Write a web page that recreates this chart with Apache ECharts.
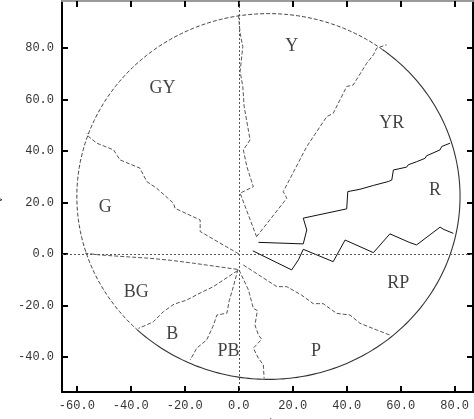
<!DOCTYPE html>
<html><head><meta charset="utf-8">
<script src="https://cdn.jsdelivr.net/npm/echarts@6/dist/echarts.min.js"></script>
<style>html,body{margin:0;padding:0;background:#fff}#c{width:474px;height:419px}</style>
</head><body><div id="c"></div>
<script>
// axis ticks
const xTicks = [-60, -40, -20, 0, 20, 40, 60, 80];
const yTicks = [-40, -20, 0, 20, 40, 60, 80];
const xRange = [-65.5, 86.8];
const yRange = [-53.6, 98.2];

// reference circle (center u*, v*, radius) and arc split angles (deg)
const circleCenter = [11, 22.3];
const circleRadius = 71;
const solidArc = [-133.3, 53.4];
const dashedArc = [53.4, 226.7];

// hue boundaries (u*, v*)
const bY_GY = [[-0.1,92.8],[0.5,85.7],[1.5,80.5],[0.5,70.8],[1.5,65],[2,57.2],[4.2,44.3],[1.7,40.4],[3,33.9],[5.4,26.1],[0.5,23.6],[6.6,6.7]];
const bY_YR = [[6.6,6.7],[17.8,21.6],[16.5,24.2],[25.2,41.7],[32.6,53.3],[35,54.6],[40,65],[42.4,65.6],[47.4,74],[49.9,77.3],[51.1,79.9],[54.8,81.2]];
const bYR_R = [[7.3,4.5],[23.9,3.9],[25.2,9.3],[23.9,13.9],[40,17.5],[40.4,24.2],[44.9,25.1],[45.2,25.6],[49.9,26.6],[50.1,27.1],[55.4,28.1],[56.7,28.7],[57.3,32.6],[62.2,33.7],[62.8,34.6],[65.9,35.8],[69,37.1],[69.6,38.1],[74.6,40.4],[75.2,41.7],[78.3,43]];
const bR_RP = [[5.2,1.2],[19.6,-6.2],[22.1,-2.3],[23.9,1.8],[35,-3],[39.4,5.4],[49.9,0.5],[56,7.8],[63.4,4.4],[65.9,3.5],[74.6,10.4],[76,9.5],[79.5,8]];
const bRP_P = [[1.7,-4.3],[14.1,-12.7],[17.8,-12.7],[23.3,-16],[27.6,-19.3],[31.3,-19.3],[36.3,-23.1],[41.2,-23.7],[44.9,-26.9],[51.1,-29.5],[56,-31.5]];
const bP_PB = [[0.1,-6.2],[3.6,-14],[5.4,-21.1],[6.9,-22],[6,-27.6],[7.3,-31.5],[8.5,-33.1],[5.4,-36.6],[7.3,-40.5],[9.1,-43.1],[9.4,-48.3]];
const bPB_B = [[-0.3,-6],[-2,-12.7],[-3.5,-18],[-4.4,-23],[-8.1,-23.7],[-9.5,-28],[-11.9,-33.4],[-15.6,-36.6],[-18,-41.2]];
const bB_BG = [[-0.5,-6.5],[-9.4,-12.7],[-14,-15],[-19.3,-17.9],[-24,-19.5],[-27.9,-22.4],[-31.6,-26.3],[-34,-27.5],[-37.2,-28.9]];
const bBG_G = [[-0.5,-6],[-16.8,-3.6],[-25,-2.5],[-32.8,-1.7],[-41.5,-1.1],[-51.4,-0.4],[-56.9,0.3]];
const bG_GY = [[0,0],[-14.3,8.7],[-14.3,13.2],[-23.6,17.7],[-24.2,19.7],[-30.4,25.5],[-34.1,28.1],[-36.6,33.3],[-44,36.5],[-46.4,40.4],[-52.6,43],[-55.7,45.6],[-56.3,46.9]];

// region labels
const hueNames = ['Y','GY','YR','R','G','BG','RP','B','PB','P'];
const hueU = [19.6,-28.3,56.7,72.7,-49.5,-38,59.1,-24.6,-3.8,28.6];
const hueV = [80.5,64.3,50.8,24.6,18.1,-15,-11.4,-31.2,-37.9,-37.9];

const dashedStyle = {color:'#555', width:1, type:[4,2]};
const solidStyle = {color:'#111', width:1, type:'solid'};

function lineSeries(data, style){
  return {type:'line', data:data, symbol:'none', lineStyle:style, silent:true, animation:false, z:3};
}

const mono = 'Liberation Mono';
const chart = echarts.init(document.getElementById('c'), null, {renderer:'canvas'});
const fmt = v => Number(v).toFixed(1);

chart.setOption({
  animation:false,
  backgroundColor:'#fff',
  grid:{left:62, top:1, width:411, height:391, containLabel:false, outerBoundsMode:'none'},
  xAxis:[
    {type:'value', position:'bottom', min:xRange[0], max:xRange[1],
     axisLine:{show:true, onZero:false, lineStyle:{color:'#000', width:2}},
     axisTick:{show:true, inside:true, length:6, customValues:xTicks, lineStyle:{color:'#000', width:2}},
     axisLabel:{customValues:xTicks, formatter:fmt, fontFamily:mono, fontSize:12, color:'#333', margin:8},
     splitLine:{show:false},
     name:'u*', nameLocation:'middle', nameGap:26, nameTextStyle:{fontFamily:mono, fontSize:11, color:'#333'}},
    {type:'value', position:'top', min:xRange[0], max:xRange[1],
     axisLine:{show:true, onZero:false, lineStyle:{color:'#999', width:2}},
     axisTick:{show:true, inside:true, length:6, customValues:xTicks, lineStyle:{color:'#000', width:2}},
     axisLabel:{show:false}, splitLine:{show:false}}
  ],
  yAxis:[
    {type:'value', position:'left', min:yRange[0], max:yRange[1],
     axisLine:{show:true, onZero:false, lineStyle:{color:'#000', width:2}},
     axisTick:{show:true, inside:true, length:6, customValues:yTicks, lineStyle:{color:'#000', width:2}},
     axisLabel:{customValues:yTicks, formatter:fmt, fontFamily:mono, fontSize:12, color:'#333', margin:8},
     splitLine:{show:false},
     name:'v*', nameLocation:'middle', nameGap:57, nameRotate:90, nameTextStyle:{fontFamily:mono, fontSize:11, color:'#333'}},
    {type:'value', position:'right', min:yRange[0], max:yRange[1],
     axisLine:{show:true, onZero:false, lineStyle:{color:'#000', width:2}},
     axisTick:{show:true, inside:true, length:6, customValues:yTicks, lineStyle:{color:'#000', width:2}},
     axisLabel:{show:false}, splitLine:{show:false}}
  ],
  series:[
    {type:'line', data:[], silent:true,
     markLine:{silent:true, symbol:'none', label:{show:false},
       lineStyle:{color:'#555', width:1, type:[2,2]},
       data:[{xAxis:0},{yAxis:0}]}},
    {type:'custom', coordinateSystem:'cartesian2d', silent:true, z:2,
     data:[[circleCenter[0], circleCenter[1], circleRadius]],
     renderItem:function(params, api){
       const cx = api.value(0), cy = api.value(1), r = api.value(2);
       function arc(a0, a1){
         const pts = [];
         const n = 180;
         for (let i = 0; i <= n; i++){
           const t = (a0 + (a1 - a0) * i / n) * Math.PI / 180;
           pts.push(api.coord([cx + r * Math.cos(t), cy + r * Math.sin(t)]));
         }
         return pts;
       }
       return {type:'group', children:[
         {type:'polyline', shape:{points:arc(solidArc[0], solidArc[1])}, style:{stroke:'#333', lineWidth:1.1, fill:null}},
         {type:'polyline', shape:{points:arc(dashedArc[0], dashedArc[1])}, style:{stroke:'#444', lineWidth:1, lineDash:[4,2], fill:null}}
       ]};
     }},
    lineSeries(bY_GY, dashedStyle),
    lineSeries(bY_YR, dashedStyle),
    lineSeries(bYR_R, solidStyle),
    lineSeries(bR_RP, solidStyle),
    lineSeries(bRP_P, dashedStyle),
    lineSeries(bP_PB, dashedStyle),
    lineSeries(bPB_B, dashedStyle),
    lineSeries(bB_BG, dashedStyle),
    lineSeries(bBG_G, dashedStyle),
    lineSeries(bG_GY, dashedStyle),
    {type:'scatter', symbolSize:0, silent:true, z:5,
     data: hueNames.map((n, i) => ({name:n, value:[hueU[i], hueV[i]]})),
     label:{show:true, position:'inside', formatter:'{b}', fontFamily:'Liberation Serif', fontSize:18, color:'#111'}}
  ]
});
</script>
</body></html>
